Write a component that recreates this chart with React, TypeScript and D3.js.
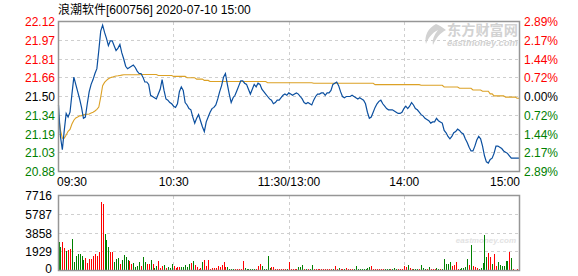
import React from "react";
import * as d3 from "d3";

const title = "浪潮软件[600756] 2020-07-10 15:00";
const priceTicks = ["22.12", "21.97", "21.81", "21.66", "21.50", "21.34", "21.19", "21.03", "20.88"];
const pctTicks = ["2.89%", "2.17%", "1.44%", "0.72%", "0.00%", "0.72%", "1.44%", "2.17%", "2.89%"];
const volTicks = ["7716", "5787", "3858", "1929", "0"];
const timeLabels = ["09:30", "10:30", "11:30/13:00", "14:00", "15:00"];

const prices = [
  21.43, 21.17, 21.06, 21.22, 21.36, 21.33, 21.37, 21.52, 21.66, 21.60,
  21.54, 21.48, 21.41, 21.32, 21.33, 21.44, 21.54, 21.60, 21.64, 21.69,
  21.73, 21.88, 22.04, 22.09, 22.03, 21.98, 21.92, 21.96, 21.96, 21.92,
  21.88, 21.90, 21.93, 21.86, 21.81, 21.75, 21.73, 21.74, 21.75, 21.76,
  21.74, 21.71, 21.69, 21.69, 21.66, 21.62, 21.62, 21.60, 21.51, 21.50,
  21.49, 21.48, 21.52, 21.56, 21.64, 21.55, 21.48, 21.47, 21.45, 21.44,
  21.42,
  21.41, 21.44, 21.54, 21.58, 21.55, 21.45, 21.43, 21.40, 21.39, 21.33,
  21.28, 21.32, 21.35, 21.30, 21.25, 21.21, 21.29, 21.33, 21.37, 21.40,
  21.41, 21.43, 21.48, 21.54, 21.59, 21.66, 21.69, 21.60, 21.52, 21.45,
  21.49, 21.51, 21.55, 21.59, 21.63, 21.63, 21.61, 21.60, 21.56, 21.52,
  21.56, 21.60, 21.58, 21.61, 21.60, 21.56, 21.54, 21.52, 21.50, 21.48,
  21.47, 21.44, 21.45, 21.47, 21.47, 21.49, 21.51, 21.52, 21.51, 21.53,
  21.52, 21.51, 21.52, 21.53, 21.52, 21.50, 21.48, 21.45, 21.44, 21.45,
  21.44, 21.43, 21.47, 21.50, 21.52, 21.52, 21.53, 21.53, 21.51, 21.53,
  21.53, 21.55, 21.60, 21.61, 21.62, 21.59, 21.54, 21.50, 21.49, 21.50,
  21.50, 21.50, 21.51, 21.50, 21.49, 21.48, 21.49, 21.48, 21.47, 21.44,
  21.37, 21.32, 21.33, 21.37, 21.41, 21.44, 21.46, 21.47, 21.44, 21.42,
  21.40, 21.39, 21.39, 21.39, 21.38, 21.37, 21.36, 21.36, 21.37, 21.40,
  21.42, 21.40, 21.42, 21.45, 21.43, 21.40, 21.39, 21.37, 21.35, 21.34,
  21.32, 21.31, 21.30, 21.28, 21.29, 21.29, 21.32, 21.30, 21.29, 21.28,
  21.22, 21.20, 21.17, 21.15, 21.17, 21.20, 21.21, 21.23, 21.22, 21.20,
  21.19, 21.15, 21.12, 21.08, 21.05, 21.05, 21.09, 21.14, 21.17, 21.15,
  21.09, 21.01, 20.96, 20.95, 20.98, 20.99, 21.03, 21.09, 21.09, 21.08,
  21.07, 21.05, 21.04, 21.03, 21.01, 20.99, 20.99, 20.99, 20.99, 20.99,
];

const avgPrices = [
  21.345, 21.223, 21.155, 21.155, 21.182, 21.212, 21.228, 21.272, 21.304, 21.323,
  21.331, 21.340, 21.342, 21.348, 21.353, 21.353, 21.356, 21.364, 21.370, 21.380,
  21.394, 21.413, 21.495, 21.590, 21.617, 21.633, 21.647, 21.655, 21.660, 21.666,
  21.669, 21.671, 21.674, 21.677, 21.680, 21.680, 21.680, 21.680, 21.680, 21.680,
  21.680, 21.680, 21.680, 21.682, 21.682, 21.682, 21.682, 21.682, 21.682, 21.682,
  21.682, 21.682, 21.674, 21.674, 21.674, 21.674, 21.674, 21.674, 21.674, 21.674,
  21.666, 21.666, 21.666, 21.666, 21.666, 21.666, 21.666, 21.655, 21.655, 21.655,
  21.655, 21.655, 21.644, 21.644, 21.644, 21.644, 21.633, 21.633, 21.633, 21.624,
  21.624, 21.624, 21.624, 21.624, 21.624, 21.624, 21.624, 21.624, 21.624, 21.624,
  21.624, 21.624, 21.624, 21.624, 21.624, 21.624, 21.624, 21.624, 21.624, 21.624,
  21.624, 21.624, 21.624, 21.624, 21.624, 21.624, 21.624, 21.624, 21.624, 21.614,
  21.614, 21.614, 21.614, 21.614, 21.614, 21.614, 21.614, 21.614, 21.614, 21.614,
  21.614, 21.614, 21.614, 21.614, 21.614, 21.614, 21.614, 21.614, 21.614, 21.614,
  21.614, 21.614, 21.614, 21.609, 21.609, 21.609, 21.609, 21.609, 21.609, 21.609,
  21.609, 21.609, 21.609, 21.609, 21.609, 21.609, 21.609, 21.609, 21.609, 21.609,
  21.609, 21.609, 21.609, 21.609, 21.609, 21.609, 21.609, 21.609, 21.609, 21.609,
  21.609, 21.609, 21.609, 21.609, 21.609, 21.598, 21.598, 21.598, 21.598, 21.598,
  21.598, 21.598, 21.598, 21.598, 21.598, 21.598, 21.598, 21.598, 21.598, 21.598,
  21.598, 21.598, 21.598, 21.598, 21.598, 21.598, 21.598, 21.598, 21.598, 21.593,
  21.593, 21.593, 21.593, 21.593, 21.593, 21.593, 21.593, 21.593, 21.593, 21.593,
  21.593, 21.579, 21.579, 21.579, 21.579, 21.579, 21.579, 21.579, 21.579, 21.568,
  21.568, 21.568, 21.568, 21.568, 21.568, 21.568, 21.554, 21.554, 21.554, 21.554,
  21.554, 21.544, 21.544, 21.544, 21.544, 21.522, 21.522, 21.505, 21.505, 21.505,
  21.505, 21.505, 21.505, 21.495, 21.495, 21.495, 21.495, 21.495, 21.495, 21.486,
  21.486,
];

const volumes = [
  2920, 2398, 2920, 2294, 1981, 2155, 2259, 3233, 834, 1460,
  1668, 1668, 1460, 1043, 1251, 730, 1147, 1147, 1460, 1668,
  1460, 1877, 7091, 6882, 3754, 3128, 2398, 1877, 1877, 834,
  1147, 1251, 626, 1043, 1564, 1356, 1043, 939, 626, 730,
  313, 417, 834, 417, 1356, 834, 626, 626, 1043, 626,
  209, 417, 939, 209, 417, 521, 209, 313, 209, 626,
  417,
  209, 313, 313, 313, 313, 521, 313, 626, 730, 939,
  521, 313, 104, 209, 834, 1043, 417, 1043, 104, 209,
  209, 209, 417, 313, 521, 834, 313, 313, 104, 104,
  104, 104, 104, 104, 104, 939, 209, 104, 104, 104,
  104, 104, 104, 417, 626, 417, 104, 104, 1460, 209,
  313, 313, 104, 104, 104, 104, 104, 104, 104, 834,
  104, 104, 104, 104, 313, 313, 521, 104, 104, 104,
  104, 521, 104, 104, 104, 104, 104, 104, 104, 104,
  104, 104, 104, 417, 104, 209, 104, 104, 104, 209,
  104, 104, 104, 104, 417, 104, 104, 104, 104, 104,
  209, 313, 417, 104, 104, 104, 104, 104, 104, 104,
  104, 104, 104, 104, 209, 104, 104, 104, 104, 417,
  313, 521, 209, 104, 104, 104, 104, 104, 521, 209,
  104, 104, 313, 104, 104, 104, 209, 104, 104, 104,
  1147, 626, 626, 834, 417, 521, 834, 104, 104, 209,
  209, 313, 1147, 521, 2607, 417, 313, 209, 104, 209,
  730, 3650, 1356, 1773, 1356, 626, 1668, 417, 834, 521,
  417, 417, 939, 939, 1877, 1251, 104, 50, 104, 1668,
];

// r = up (red), g = down (green)
const volumeSide = (
  "ggrrgrrggg" + "ggggrrrrrr" + "rrrrgggrrg" + "ggrggggrrg" + "gggrggrrgr" + "ggrrrgrggg" + "r" +
  "rrrgggggrg" + "rrrrgrrrrr" + "rrrrrrrggg" + "grrrrrgggg" + "ggrrrggggg" + "rrrrrrrrgr" +
  "rrrrgggrgr" + "ggrrrrrrrr" + "rrgrrgrrgr" + "rrrggggggg" + "ggrrrrrrrg" + "ggrgggrrrr" +
  "rgrrgggrgg" + "grgrrrggrg" + "ggggrrrrgg" + "gggrgrrrgg" + "gggrrgrrgg" + "ggggrgrrrr"
).split("");

const W = 578;
const H = 276;
const L = 58.5;
const R = 519.5;
const T = 21.5;
const B = 171.5;
const VT = 195.5;
const VB = 270.5;

const RED = "#ff0000";
const GREEN = "#008000";
const GRID = "#cfcfcf";
const FRAME = "#969696";
const FONT = "'Liberation Sans', Arial, 'Noto Sans CJK SC', sans-serif";

export default function App() {
  const n = 241;
  const x = d3.scaleLinear().domain([0, n - 1]).range([L, R - 0.5]);
  const y = d3.scaleLinear().domain([20.88, 22.12]).range([B, T]);
  const gy = d3.scaleLinear().domain([0, priceTicks.length - 1]).range([T, B]);
  const vy = d3.scaleLinear().domain([0, 7716]).range([VB, VT]);
  const vgy = d3.scaleLinear().domain([0, volTicks.length - 1]).range([VT, VB]);
  const tx = d3.scaleLinear().domain([0, timeLabels.length - 1]).range([L, R]);

  const line = d3
    .line<number>()
    .x((_, i) => x(i))
    .y((d) => y(d));

  const labelColor = (i: number, mid: number) =>
    i < mid ? RED : i === mid ? "#000000" : GREEN;

  const crisp = (v: number) => Math.round(v - 0.5) + 0.5;

  return (
    <svg
      width={W}
      height={H}
      viewBox={`0 0 ${W} ${H}`}
      style={{ position: "absolute", left: 0, top: 0, background: "#fff" }}
      fontFamily={FONT}
    >
      <rect x={0} y={0} width={W} height={H} fill="#ffffff" />

      {/* title */}
      <text x={58} y={14} fontSize={12} fill="#000">
        {title}
      </text>

      {/* watermark */}
      <g fill="#d2d2d2">
        <path d="M436,24 C428,28 424,36 426,44 C428,38 432,33 438,30 C434,35 432,40 433,45 C436,38 440,33 446,30 C442,27 439,25 436,24 Z" />
        <text x={447} y={35} fontSize={14} fontWeight="bold" fontFamily="'Noto Sans CJK SC', sans-serif" textLength={71} lengthAdjust="spacingAndGlyphs">
          东方财富网
        </text>
        <text x={447} y={45.5} fontSize={8.5} fontWeight="bold" fontStyle="italic" textLength={71} lengthAdjust="spacingAndGlyphs">
          eastmoney.com
        </text>
        <text x={516} y={243} fontSize={8} fontWeight="bold" fontStyle="italic" textAnchor="end" fill="#e2e2e2">
          eastmoney.com
        </text>
      </g>

      {/* grid */}
      <g stroke={GRID} strokeDasharray="3,3" strokeWidth={1} shapeRendering="crispEdges">
        {priceTicks.slice(1, -1).map((_, k) => (
          <line key={"h" + k} x1={L} x2={R} y1={crisp(gy(k + 1))} y2={crisp(gy(k + 1))} />
        ))}
        {timeLabels.slice(1, -1).map((_, k) => (
          <line key={"v" + k} x1={crisp(tx(k + 1))} x2={crisp(tx(k + 1))} y1={T} y2={B} />
        ))}
        {volTicks.slice(1, -1).map((_, k) => (
          <line key={"vh" + k} x1={L} x2={R} y1={crisp(vgy(k + 1))} y2={crisp(vgy(k + 1))} />
        ))}
        {timeLabels.slice(1, -1).map((_, k) => (
          <line key={"vv" + k} x1={crisp(tx(k + 1))} x2={crisp(tx(k + 1))} y1={VT} y2={VB} />
        ))}
      </g>

      {/* average line */}
      <path d={line(avgPrices) || ""} fill="none" stroke="#dca125" strokeWidth={1.1} />
      {/* price line */}
      <path d={line(prices) || ""} fill="none" stroke="#0b4f9f" strokeWidth={1.2} />

      {/* volume bars */}
      <g shapeRendering="crispEdges">
        {volumes.map((v, i) => (
          <rect
            key={i}
            x={Math.round(x(i))}
            y={vy(v)}
            width={1}
            height={Math.max(0, VB - vy(v))}
            fill={volumeSide[i] === "r" ? RED : GREEN}
          />
        ))}
      </g>

      {/* frames */}
      <rect x={L} y={T} width={R - L} height={B - T} fill="none" stroke={FRAME} strokeWidth={1.5} />
      <rect x={L} y={VT} width={R - L} height={VB - VT} fill="none" stroke={FRAME} strokeWidth={1.5} />

      {/* left price labels */}
      {priceTicks.map((t, k) => (
        <text key={"p" + k} x={55} y={gy(k) + 4.5} fontSize={12} textAnchor="end" fill={labelColor(k, 4)}>
          {t}
        </text>
      ))}
      {/* right percent labels */}
      {pctTicks.map((t, k) => (
        <text key={"c" + k} x={524} y={gy(k) + 4.5} fontSize={12} fill={labelColor(k, 4)}>
          {t}
        </text>
      ))}
      {/* time labels */}
      {timeLabels.map((t, k) => (
        <text
          key={"t" + k}
          x={k === 0 ? 57 : k === timeLabels.length - 1 ? 520 : tx(k)}
          y={186}
          fontSize={12}
          textAnchor={k === 0 ? "start" : k === timeLabels.length - 1 ? "end" : "middle"}
          fill="#000"
        >
          {t}
        </text>
      ))}
      {/* volume labels */}
      {volTicks.map((t, k) => (
        <text key={"v" + k} x={52} y={Math.min(vgy(k) + 4.5, 272.5)} fontSize={12} textAnchor="end" fill="#000">
          {t}
        </text>
      ))}
    </svg>
  );
}
